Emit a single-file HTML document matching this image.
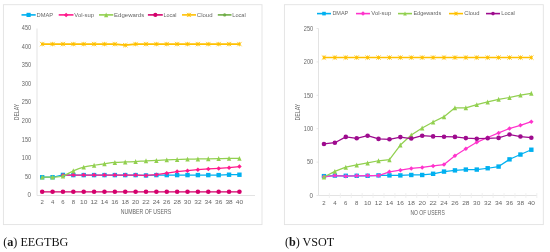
<!DOCTYPE html>
<html><head><meta charset="utf-8"><title>Delay comparison charts</title>
<style>html,body{margin:0;padding:0;background:#fff;width:550px;height:252px;overflow:hidden}svg{display:block}</style>
</head><body>
<svg width="550" height="252" viewBox="0 0 550 252" font-family="'Liberation Sans', Arial, sans-serif">
<rect width="550" height="252" fill="#fff"/>
<rect x="3.4" y="4.7" width="258.6" height="219.9" fill="#fff" stroke="#E2E2E2" stroke-width="0.9"/>
<path d="M37 28.5V195.5H255" stroke="#E0E0E0" stroke-width="0.9" fill="none"/>
<text x="31.1" y="197.25" font-size="6.3" text-anchor="end" fill="#666666">0</text>
<text x="31.1" y="178.69" font-size="6.3" text-anchor="end" fill="#666666" textLength="6.2" lengthAdjust="spacingAndGlyphs">50</text>
<text x="31.1" y="160.14" font-size="6.3" text-anchor="end" fill="#666666" textLength="9.3" lengthAdjust="spacingAndGlyphs">100</text>
<text x="31.1" y="141.58" font-size="6.3" text-anchor="end" fill="#666666" textLength="9.3" lengthAdjust="spacingAndGlyphs">150</text>
<text x="31.1" y="123.03" font-size="6.3" text-anchor="end" fill="#666666" textLength="9.3" lengthAdjust="spacingAndGlyphs">200</text>
<text x="31.1" y="104.47" font-size="6.3" text-anchor="end" fill="#666666" textLength="9.3" lengthAdjust="spacingAndGlyphs">250</text>
<text x="31.1" y="85.92" font-size="6.3" text-anchor="end" fill="#666666" textLength="9.3" lengthAdjust="spacingAndGlyphs">300</text>
<text x="31.1" y="67.36" font-size="6.3" text-anchor="end" fill="#666666" textLength="9.3" lengthAdjust="spacingAndGlyphs">350</text>
<text x="31.1" y="48.81" font-size="6.3" text-anchor="end" fill="#666666" textLength="9.3" lengthAdjust="spacingAndGlyphs">400</text>
<text x="31.1" y="30.25" font-size="6.3" text-anchor="end" fill="#666666" textLength="9.3" lengthAdjust="spacingAndGlyphs">450</text>
<text x="42.19" y="204.2" font-size="6.0" text-anchor="middle" fill="#666666">2</text>
<text x="52.57" y="204.2" font-size="6.0" text-anchor="middle" fill="#666666">4</text>
<text x="62.95" y="204.2" font-size="6.0" text-anchor="middle" fill="#666666">6</text>
<text x="73.33" y="204.2" font-size="6.0" text-anchor="middle" fill="#666666">8</text>
<text x="83.71" y="204.2" font-size="6.0" text-anchor="middle" fill="#666666" textLength="7.3" lengthAdjust="spacingAndGlyphs">10</text>
<text x="94.1" y="204.2" font-size="6.0" text-anchor="middle" fill="#666666" textLength="7.3" lengthAdjust="spacingAndGlyphs">12</text>
<text x="104.48" y="204.2" font-size="6.0" text-anchor="middle" fill="#666666" textLength="7.3" lengthAdjust="spacingAndGlyphs">14</text>
<text x="114.86" y="204.2" font-size="6.0" text-anchor="middle" fill="#666666" textLength="7.3" lengthAdjust="spacingAndGlyphs">16</text>
<text x="125.24" y="204.2" font-size="6.0" text-anchor="middle" fill="#666666" textLength="7.3" lengthAdjust="spacingAndGlyphs">18</text>
<text x="135.62" y="204.2" font-size="6.0" text-anchor="middle" fill="#666666" textLength="7.3" lengthAdjust="spacingAndGlyphs">20</text>
<text x="146" y="204.2" font-size="6.0" text-anchor="middle" fill="#666666" textLength="7.3" lengthAdjust="spacingAndGlyphs">22</text>
<text x="156.38" y="204.2" font-size="6.0" text-anchor="middle" fill="#666666" textLength="7.3" lengthAdjust="spacingAndGlyphs">24</text>
<text x="166.76" y="204.2" font-size="6.0" text-anchor="middle" fill="#666666" textLength="7.3" lengthAdjust="spacingAndGlyphs">26</text>
<text x="177.14" y="204.2" font-size="6.0" text-anchor="middle" fill="#666666" textLength="7.3" lengthAdjust="spacingAndGlyphs">28</text>
<text x="187.52" y="204.2" font-size="6.0" text-anchor="middle" fill="#666666" textLength="7.3" lengthAdjust="spacingAndGlyphs">30</text>
<text x="197.9" y="204.2" font-size="6.0" text-anchor="middle" fill="#666666" textLength="7.3" lengthAdjust="spacingAndGlyphs">32</text>
<text x="208.29" y="204.2" font-size="6.0" text-anchor="middle" fill="#666666" textLength="7.3" lengthAdjust="spacingAndGlyphs">34</text>
<text x="218.67" y="204.2" font-size="6.0" text-anchor="middle" fill="#666666" textLength="7.3" lengthAdjust="spacingAndGlyphs">36</text>
<text x="229.05" y="204.2" font-size="6.0" text-anchor="middle" fill="#666666" textLength="7.3" lengthAdjust="spacingAndGlyphs">38</text>
<text x="239.43" y="204.2" font-size="6.0" text-anchor="middle" fill="#666666" textLength="7.3" lengthAdjust="spacingAndGlyphs">40</text>
<text x="146" y="214.3" font-size="6.7" text-anchor="middle" fill="#666666" textLength="50.4" lengthAdjust="spacingAndGlyphs">NUMBER OF USERS</text>
<text x="0" y="0" font-size="6.3" text-anchor="middle" fill="#666666" textLength="16.2" lengthAdjust="spacingAndGlyphs" transform="translate(18.5 112.1) rotate(-90)">DELAY</text>
<path d="M42.19 177.24L52.57 177.24L62.95 174.9L73.33 175.09L83.71 175.09L94.1 175.09L104.48 175.09L114.86 175.09L125.24 175.09L135.62 175.09L146 175.46L156.38 175.09L166.76 175.09L177.14 175.09L187.52 175.09L197.9 175.09L208.29 175.09L218.67 175.09L229.05 174.72L239.43 174.72" stroke="#00B0F0" stroke-width="1.25" fill="none" stroke-linejoin="round" stroke-linecap="round"/>
<rect x="39.99" y="175.04" width="4.4" height="4.4" fill="#00B0F0"/>
<rect x="50.37" y="175.04" width="4.4" height="4.4" fill="#00B0F0"/>
<rect x="60.75" y="172.7" width="4.4" height="4.4" fill="#00B0F0"/>
<rect x="71.13" y="172.89" width="4.4" height="4.4" fill="#00B0F0"/>
<rect x="81.51" y="172.89" width="4.4" height="4.4" fill="#00B0F0"/>
<rect x="91.9" y="172.89" width="4.4" height="4.4" fill="#00B0F0"/>
<rect x="102.28" y="172.89" width="4.4" height="4.4" fill="#00B0F0"/>
<rect x="112.66" y="172.89" width="4.4" height="4.4" fill="#00B0F0"/>
<rect x="123.04" y="172.89" width="4.4" height="4.4" fill="#00B0F0"/>
<rect x="133.42" y="172.89" width="4.4" height="4.4" fill="#00B0F0"/>
<rect x="143.8" y="173.26" width="4.4" height="4.4" fill="#00B0F0"/>
<rect x="154.18" y="172.89" width="4.4" height="4.4" fill="#00B0F0"/>
<rect x="164.56" y="172.89" width="4.4" height="4.4" fill="#00B0F0"/>
<rect x="174.94" y="172.89" width="4.4" height="4.4" fill="#00B0F0"/>
<rect x="185.32" y="172.89" width="4.4" height="4.4" fill="#00B0F0"/>
<rect x="195.7" y="172.89" width="4.4" height="4.4" fill="#00B0F0"/>
<rect x="206.09" y="172.89" width="4.4" height="4.4" fill="#00B0F0"/>
<rect x="216.47" y="172.89" width="4.4" height="4.4" fill="#00B0F0"/>
<rect x="226.85" y="172.52" width="4.4" height="4.4" fill="#00B0F0"/>
<rect x="237.23" y="172.52" width="4.4" height="4.4" fill="#00B0F0"/>
<path d="M62.95 175.24L73.33 175.09L83.71 175.09L94.1 175.09L104.48 175.09L114.86 175.09L125.24 175.09L135.62 175.09L146 175.46L156.38 174.72L166.76 173.23L177.14 171.56L187.52 170.64L197.9 169.71L208.29 168.97L218.67 168.41L229.05 167.67L239.43 166.55" stroke="#FF1A8C" stroke-width="1.25" fill="none" stroke-linejoin="round" stroke-linecap="round"/>
<path d="M62.95 172.99L65.2 175.24L62.95 177.49L60.7 175.24Z" fill="#FF1A8C"/>
<path d="M73.33 172.84L75.58 175.09L73.33 177.34L71.08 175.09Z" fill="#FF1A8C"/>
<path d="M83.71 172.84L85.96 175.09L83.71 177.34L81.46 175.09Z" fill="#FF1A8C"/>
<path d="M94.1 172.84L96.35 175.09L94.1 177.34L91.85 175.09Z" fill="#FF1A8C"/>
<path d="M104.48 172.84L106.73 175.09L104.48 177.34L102.23 175.09Z" fill="#FF1A8C"/>
<path d="M114.86 172.84L117.11 175.09L114.86 177.34L112.61 175.09Z" fill="#FF1A8C"/>
<path d="M125.24 172.84L127.49 175.09L125.24 177.34L122.99 175.09Z" fill="#FF1A8C"/>
<path d="M135.62 172.84L137.87 175.09L135.62 177.34L133.37 175.09Z" fill="#FF1A8C"/>
<path d="M146 173.21L148.25 175.46L146 177.71L143.75 175.46Z" fill="#FF1A8C"/>
<path d="M156.38 172.47L158.63 174.72L156.38 176.97L154.13 174.72Z" fill="#FF1A8C"/>
<path d="M166.76 170.98L169.01 173.23L166.76 175.48L164.51 173.23Z" fill="#FF1A8C"/>
<path d="M177.14 169.31L179.39 171.56L177.14 173.81L174.89 171.56Z" fill="#FF1A8C"/>
<path d="M187.52 168.39L189.77 170.64L187.52 172.89L185.27 170.64Z" fill="#FF1A8C"/>
<path d="M197.9 167.46L200.15 169.71L197.9 171.96L195.65 169.71Z" fill="#FF1A8C"/>
<path d="M208.29 166.72L210.54 168.97L208.29 171.22L206.04 168.97Z" fill="#FF1A8C"/>
<path d="M218.67 166.16L220.92 168.41L218.67 170.66L216.42 168.41Z" fill="#FF1A8C"/>
<path d="M229.05 165.42L231.3 167.67L229.05 169.92L226.8 167.67Z" fill="#FF1A8C"/>
<path d="M239.43 164.3L241.68 166.55L239.43 168.8L237.18 166.55Z" fill="#FF1A8C"/>
<path d="M42.19 177.09C43.92 177.09 49.11 177.27 52.57 177.09C56.03 176.91 59.49 177.06 62.95 176.02C66.41 174.97 69.87 172.31 73.33 170.82C76.79 169.34 80.25 168.04 83.71 167.11C87.17 166.18 90.63 165.81 94.1 165.25C97.56 164.7 101.02 164.23 104.48 163.77C107.94 163.31 111.4 162.78 114.86 162.47C118.32 162.16 121.78 162.07 125.24 161.91C128.7 161.76 132.16 161.73 135.62 161.54C139.08 161.36 142.54 160.99 146 160.8C149.46 160.62 152.92 160.58 156.38 160.43C159.84 160.28 163.3 160.03 166.76 159.87C170.22 159.72 173.68 159.63 177.14 159.5C180.6 159.38 184.06 159.22 187.52 159.13C190.98 159.04 194.44 159.01 197.9 158.95C201.37 158.88 204.83 158.82 208.29 158.76C211.75 158.7 215.21 158.64 218.67 158.57C222.13 158.51 225.59 158.42 229.05 158.39C232.51 158.36 237.7 158.39 239.43 158.39" stroke="#92D050" stroke-width="1.25" fill="none" stroke-linejoin="round" stroke-linecap="round"/>
<path d="M42.19 174.63L44.39 179.56L39.99 179.56Z" fill="#92D050"/>
<path d="M52.57 174.63L54.77 179.56L50.37 179.56Z" fill="#92D050"/>
<path d="M62.95 173.55L65.15 178.48L60.75 178.48Z" fill="#92D050"/>
<path d="M73.33 168.36L75.53 173.29L71.13 173.29Z" fill="#92D050"/>
<path d="M83.71 164.65L85.91 169.57L81.51 169.57Z" fill="#92D050"/>
<path d="M94.1 162.79L96.3 167.72L91.9 167.72Z" fill="#92D050"/>
<path d="M104.48 161.31L106.68 166.23L102.28 166.23Z" fill="#92D050"/>
<path d="M114.86 160.01L117.06 164.94L112.66 164.94Z" fill="#92D050"/>
<path d="M125.24 159.45L127.44 164.38L123.04 164.38Z" fill="#92D050"/>
<path d="M135.62 159.08L137.82 164.01L133.42 164.01Z" fill="#92D050"/>
<path d="M146 158.34L148.2 163.27L143.8 163.27Z" fill="#92D050"/>
<path d="M156.38 157.97L158.58 162.89L154.18 162.89Z" fill="#92D050"/>
<path d="M166.76 157.41L168.96 162.34L164.56 162.34Z" fill="#92D050"/>
<path d="M177.14 157.04L179.34 161.97L174.94 161.97Z" fill="#92D050"/>
<path d="M187.52 156.67L189.72 161.6L185.32 161.6Z" fill="#92D050"/>
<path d="M197.9 156.48L200.1 161.41L195.7 161.41Z" fill="#92D050"/>
<path d="M208.29 156.3L210.49 161.22L206.09 161.22Z" fill="#92D050"/>
<path d="M218.67 156.11L220.87 161.04L216.47 161.04Z" fill="#92D050"/>
<path d="M229.05 155.92L231.25 160.85L226.85 160.85Z" fill="#92D050"/>
<path d="M239.43 155.92L241.63 160.85L237.23 160.85Z" fill="#92D050"/>
<path d="M42.19 191.79L52.57 191.79L62.95 191.79L73.33 191.79L83.71 191.79L94.1 191.79L104.48 191.79L114.86 191.79L125.24 191.79L135.62 191.79L146 191.79L156.38 191.79L166.76 191.79L177.14 191.79L187.52 191.79L197.9 191.79L208.29 191.79L218.67 191.79L229.05 191.79L239.43 191.79" stroke="#D4006C" stroke-width="1.25" fill="none" stroke-linejoin="round" stroke-linecap="round"/>
<circle cx="42.19" cy="191.79" r="2.3" fill="#D4006C"/>
<circle cx="52.57" cy="191.79" r="2.3" fill="#D4006C"/>
<circle cx="62.95" cy="191.79" r="2.3" fill="#D4006C"/>
<circle cx="73.33" cy="191.79" r="2.3" fill="#D4006C"/>
<circle cx="83.71" cy="191.79" r="2.3" fill="#D4006C"/>
<circle cx="94.1" cy="191.79" r="2.3" fill="#D4006C"/>
<circle cx="104.48" cy="191.79" r="2.3" fill="#D4006C"/>
<circle cx="114.86" cy="191.79" r="2.3" fill="#D4006C"/>
<circle cx="125.24" cy="191.79" r="2.3" fill="#D4006C"/>
<circle cx="135.62" cy="191.79" r="2.3" fill="#D4006C"/>
<circle cx="146" cy="191.79" r="2.3" fill="#D4006C"/>
<circle cx="156.38" cy="191.79" r="2.3" fill="#D4006C"/>
<circle cx="166.76" cy="191.79" r="2.3" fill="#D4006C"/>
<circle cx="177.14" cy="191.79" r="2.3" fill="#D4006C"/>
<circle cx="187.52" cy="191.79" r="2.3" fill="#D4006C"/>
<circle cx="197.9" cy="191.79" r="2.3" fill="#D4006C"/>
<circle cx="208.29" cy="191.79" r="2.3" fill="#D4006C"/>
<circle cx="218.67" cy="191.79" r="2.3" fill="#D4006C"/>
<circle cx="229.05" cy="191.79" r="2.3" fill="#D4006C"/>
<circle cx="239.43" cy="191.79" r="2.3" fill="#D4006C"/>
<path d="M42.19 44.09L52.57 44.09L62.95 44.09L73.33 44.09L83.71 44.09L94.1 44.09L104.48 44.09L114.86 44.09L125.24 45.2L135.62 44.09L146 44.09L156.38 44.09L166.76 44.09L177.14 44.09L187.52 44.09L197.9 44.09L208.29 44.09L218.67 44.09L229.05 44.09L239.43 44.09" stroke="#FFC000" stroke-width="1.7" fill="none" stroke-linejoin="round" stroke-linecap="round"/>
<path d="M39.99 41.89L44.39 46.29M44.39 41.89L39.99 46.29M42.19 41.89L42.19 46.29" stroke="#FFC000" stroke-width="0.8" fill="none"/><rect x="41.09" y="42.99" width="2.2" height="2.2" fill="#FFC000"/>
<path d="M50.37 41.89L54.77 46.29M54.77 41.89L50.37 46.29M52.57 41.89L52.57 46.29" stroke="#FFC000" stroke-width="0.8" fill="none"/><rect x="51.47" y="42.99" width="2.2" height="2.2" fill="#FFC000"/>
<path d="M60.75 41.89L65.15 46.29M65.15 41.89L60.75 46.29M62.95 41.89L62.95 46.29" stroke="#FFC000" stroke-width="0.8" fill="none"/><rect x="61.85" y="42.99" width="2.2" height="2.2" fill="#FFC000"/>
<path d="M71.13 41.89L75.53 46.29M75.53 41.89L71.13 46.29M73.33 41.89L73.33 46.29" stroke="#FFC000" stroke-width="0.8" fill="none"/><rect x="72.23" y="42.99" width="2.2" height="2.2" fill="#FFC000"/>
<path d="M81.51 41.89L85.91 46.29M85.91 41.89L81.51 46.29M83.71 41.89L83.71 46.29" stroke="#FFC000" stroke-width="0.8" fill="none"/><rect x="82.61" y="42.99" width="2.2" height="2.2" fill="#FFC000"/>
<path d="M91.9 41.89L96.3 46.29M96.3 41.89L91.9 46.29M94.1 41.89L94.1 46.29" stroke="#FFC000" stroke-width="0.8" fill="none"/><rect x="93" y="42.99" width="2.2" height="2.2" fill="#FFC000"/>
<path d="M102.28 41.89L106.68 46.29M106.68 41.89L102.28 46.29M104.48 41.89L104.48 46.29" stroke="#FFC000" stroke-width="0.8" fill="none"/><rect x="103.38" y="42.99" width="2.2" height="2.2" fill="#FFC000"/>
<path d="M112.66 41.89L117.06 46.29M117.06 41.89L112.66 46.29M114.86 41.89L114.86 46.29" stroke="#FFC000" stroke-width="0.8" fill="none"/><rect x="113.76" y="42.99" width="2.2" height="2.2" fill="#FFC000"/>
<path d="M123.04 43L127.44 47.4M127.44 43L123.04 47.4M125.24 43L125.24 47.4" stroke="#FFC000" stroke-width="0.8" fill="none"/><rect x="124.14" y="44.1" width="2.2" height="2.2" fill="#FFC000"/>
<path d="M133.42 41.89L137.82 46.29M137.82 41.89L133.42 46.29M135.62 41.89L135.62 46.29" stroke="#FFC000" stroke-width="0.8" fill="none"/><rect x="134.52" y="42.99" width="2.2" height="2.2" fill="#FFC000"/>
<path d="M143.8 41.89L148.2 46.29M148.2 41.89L143.8 46.29M146 41.89L146 46.29" stroke="#FFC000" stroke-width="0.8" fill="none"/><rect x="144.9" y="42.99" width="2.2" height="2.2" fill="#FFC000"/>
<path d="M154.18 41.89L158.58 46.29M158.58 41.89L154.18 46.29M156.38 41.89L156.38 46.29" stroke="#FFC000" stroke-width="0.8" fill="none"/><rect x="155.28" y="42.99" width="2.2" height="2.2" fill="#FFC000"/>
<path d="M164.56 41.89L168.96 46.29M168.96 41.89L164.56 46.29M166.76 41.89L166.76 46.29" stroke="#FFC000" stroke-width="0.8" fill="none"/><rect x="165.66" y="42.99" width="2.2" height="2.2" fill="#FFC000"/>
<path d="M174.94 41.89L179.34 46.29M179.34 41.89L174.94 46.29M177.14 41.89L177.14 46.29" stroke="#FFC000" stroke-width="0.8" fill="none"/><rect x="176.04" y="42.99" width="2.2" height="2.2" fill="#FFC000"/>
<path d="M185.32 41.89L189.72 46.29M189.72 41.89L185.32 46.29M187.52 41.89L187.52 46.29" stroke="#FFC000" stroke-width="0.8" fill="none"/><rect x="186.42" y="42.99" width="2.2" height="2.2" fill="#FFC000"/>
<path d="M195.7 41.89L200.1 46.29M200.1 41.89L195.7 46.29M197.9 41.89L197.9 46.29" stroke="#FFC000" stroke-width="0.8" fill="none"/><rect x="196.8" y="42.99" width="2.2" height="2.2" fill="#FFC000"/>
<path d="M206.09 41.89L210.49 46.29M210.49 41.89L206.09 46.29M208.29 41.89L208.29 46.29" stroke="#FFC000" stroke-width="0.8" fill="none"/><rect x="207.19" y="42.99" width="2.2" height="2.2" fill="#FFC000"/>
<path d="M216.47 41.89L220.87 46.29M220.87 41.89L216.47 46.29M218.67 41.89L218.67 46.29" stroke="#FFC000" stroke-width="0.8" fill="none"/><rect x="217.57" y="42.99" width="2.2" height="2.2" fill="#FFC000"/>
<path d="M226.85 41.89L231.25 46.29M231.25 41.89L226.85 46.29M229.05 41.89L229.05 46.29" stroke="#FFC000" stroke-width="0.8" fill="none"/><rect x="227.95" y="42.99" width="2.2" height="2.2" fill="#FFC000"/>
<path d="M237.23 41.89L241.63 46.29M241.63 41.89L237.23 46.29M239.43 41.89L239.43 46.29" stroke="#FFC000" stroke-width="0.8" fill="none"/><rect x="238.33" y="42.99" width="2.2" height="2.2" fill="#FFC000"/>
<path d="M21.5 14.9H35.7" stroke="#00B0F0" stroke-width="1.6"/>
<rect x="26.5" y="12.8" width="4.2" height="4.2" fill="#00B0F0"/>
<text x="36.5" y="16.65" font-size="6.0" text-anchor="start" fill="#666666" textLength="16.7" lengthAdjust="spacingAndGlyphs">DMAP</text>
<path d="M58.7 14.9H73.5" stroke="#FF1A8C" stroke-width="1.6"/>
<path d="M66.1 12.65L68.35 14.9L66.1 17.15L63.85 14.9Z" fill="#FF1A8C"/>
<text x="74.3" y="16.65" font-size="6.0" text-anchor="start" fill="#666666" textLength="19.7" lengthAdjust="spacingAndGlyphs">Vol-sup</text>
<path d="M99 14.9H113.3" stroke="#92D050" stroke-width="1.6"/>
<path d="M106.15 12.55L108.25 17.25L104.05 17.25Z" fill="#92D050"/>
<text x="114.1" y="16.65" font-size="6.0" text-anchor="start" fill="#666666" textLength="30.1" lengthAdjust="spacingAndGlyphs">Edgewards</text>
<path d="M147.9 14.9H162.8" stroke="#D4006C" stroke-width="1.6"/>
<circle cx="155.35" cy="14.9" r="2.1" fill="#D4006C"/>
<text x="163.6" y="16.65" font-size="6.0" text-anchor="start" fill="#666666" textLength="12.9" lengthAdjust="spacingAndGlyphs">Local</text>
<path d="M182 14.9H196" stroke="#FFC000" stroke-width="1.6"/>
<path d="M186.9 12.8L191.1 17M191.1 12.8L186.9 17M189 12.8L189 17" stroke="#FFC000" stroke-width="0.8" fill="none"/><rect x="187.9" y="13.8" width="2.2" height="2.2" fill="#FFC000"/>
<text x="196.8" y="16.65" font-size="6.0" text-anchor="start" fill="#666666" textLength="15.7" lengthAdjust="spacingAndGlyphs">Cloud</text>
<path d="M217.8 14.9H231.5" stroke="#70AD47" stroke-width="1.6"/>
<circle cx="224.65" cy="14.9" r="1.6" fill="#70AD47"/>
<text x="232.3" y="16.65" font-size="6.0" text-anchor="start" fill="#666666" textLength="13.4" lengthAdjust="spacingAndGlyphs">Local</text>
<rect x="284.4" y="4.7" width="258.9" height="219.9" fill="#fff" stroke="#E2E2E2" stroke-width="0.9"/>
<path d="M318.5 28.5V195.5H536.8" stroke="#E0E0E0" stroke-width="0.9" fill="none"/>
<path d="M329.42 193v5M340.33 193v5M351.25 193v5M362.16 193v5M373.07 193v5M383.99 193v5M394.9 193v5M405.82 193v5M416.73 193v5M427.65 193v5M438.56 193v5M449.48 193v5M460.39 193v5M471.31 193v5M482.22 193v5M493.14 193v5M504.05 193v5M514.97 193v5M525.88 193v5M536.8 193v5" stroke="#EDEDED" stroke-width="0.8"/>
<path d="M316.5 195.5h2M316.5 162.1h2M316.5 128.7h2M316.5 95.3h2M316.5 61.9h2M316.5 28.5h2" stroke="#E0E0E0" stroke-width="0.8"/>
<text x="313.1" y="197.75" font-size="6.3" text-anchor="end" fill="#666666">0</text>
<text x="313.1" y="164.35" font-size="6.3" text-anchor="end" fill="#666666" textLength="6.2" lengthAdjust="spacingAndGlyphs">50</text>
<text x="313.1" y="130.95" font-size="6.3" text-anchor="end" fill="#666666" textLength="9.3" lengthAdjust="spacingAndGlyphs">100</text>
<text x="313.1" y="97.55" font-size="6.3" text-anchor="end" fill="#666666" textLength="9.3" lengthAdjust="spacingAndGlyphs">150</text>
<text x="313.1" y="64.15" font-size="6.3" text-anchor="end" fill="#666666" textLength="9.3" lengthAdjust="spacingAndGlyphs">200</text>
<text x="313.1" y="30.75" font-size="6.3" text-anchor="end" fill="#666666" textLength="9.3" lengthAdjust="spacingAndGlyphs">250</text>
<text x="323.96" y="204.95" font-size="6.0" text-anchor="middle" fill="#666666">2</text>
<text x="334.87" y="204.95" font-size="6.0" text-anchor="middle" fill="#666666">4</text>
<text x="345.79" y="204.95" font-size="6.0" text-anchor="middle" fill="#666666">6</text>
<text x="356.7" y="204.95" font-size="6.0" text-anchor="middle" fill="#666666">8</text>
<text x="367.62" y="204.95" font-size="6.0" text-anchor="middle" fill="#666666" textLength="7.3" lengthAdjust="spacingAndGlyphs">10</text>
<text x="378.53" y="204.95" font-size="6.0" text-anchor="middle" fill="#666666" textLength="7.3" lengthAdjust="spacingAndGlyphs">12</text>
<text x="389.45" y="204.95" font-size="6.0" text-anchor="middle" fill="#666666" textLength="7.3" lengthAdjust="spacingAndGlyphs">14</text>
<text x="400.36" y="204.95" font-size="6.0" text-anchor="middle" fill="#666666" textLength="7.3" lengthAdjust="spacingAndGlyphs">16</text>
<text x="411.28" y="204.95" font-size="6.0" text-anchor="middle" fill="#666666" textLength="7.3" lengthAdjust="spacingAndGlyphs">18</text>
<text x="422.19" y="204.95" font-size="6.0" text-anchor="middle" fill="#666666" textLength="7.3" lengthAdjust="spacingAndGlyphs">20</text>
<text x="433.11" y="204.95" font-size="6.0" text-anchor="middle" fill="#666666" textLength="7.3" lengthAdjust="spacingAndGlyphs">22</text>
<text x="444.02" y="204.95" font-size="6.0" text-anchor="middle" fill="#666666" textLength="7.3" lengthAdjust="spacingAndGlyphs">24</text>
<text x="454.94" y="204.95" font-size="6.0" text-anchor="middle" fill="#666666" textLength="7.3" lengthAdjust="spacingAndGlyphs">26</text>
<text x="465.85" y="204.95" font-size="6.0" text-anchor="middle" fill="#666666" textLength="7.3" lengthAdjust="spacingAndGlyphs">28</text>
<text x="476.77" y="204.95" font-size="6.0" text-anchor="middle" fill="#666666" textLength="7.3" lengthAdjust="spacingAndGlyphs">30</text>
<text x="487.68" y="204.95" font-size="6.0" text-anchor="middle" fill="#666666" textLength="7.3" lengthAdjust="spacingAndGlyphs">32</text>
<text x="498.6" y="204.95" font-size="6.0" text-anchor="middle" fill="#666666" textLength="7.3" lengthAdjust="spacingAndGlyphs">34</text>
<text x="509.51" y="204.95" font-size="6.0" text-anchor="middle" fill="#666666" textLength="7.3" lengthAdjust="spacingAndGlyphs">36</text>
<text x="520.43" y="204.95" font-size="6.0" text-anchor="middle" fill="#666666" textLength="7.3" lengthAdjust="spacingAndGlyphs">38</text>
<text x="531.34" y="204.95" font-size="6.0" text-anchor="middle" fill="#666666" textLength="7.3" lengthAdjust="spacingAndGlyphs">40</text>
<text x="427.6" y="214.5" font-size="6.7" text-anchor="middle" fill="#666666" textLength="34.4" lengthAdjust="spacingAndGlyphs">NO OF USERS</text>
<text x="0" y="0" font-size="6.5" text-anchor="middle" fill="#666666" textLength="16.6" lengthAdjust="spacingAndGlyphs" transform="translate(299.9 112.1) rotate(-90)">DELAY</text>
<path d="M323.96 176.13L334.87 175.59L345.79 175.79L356.7 175.79L367.62 175.79L378.53 175.39L389.45 175.39L400.36 175.39L411.28 174.99L422.19 174.99L433.11 173.79L444.02 171.59L454.94 170.38L465.85 169.58L476.77 169.58L487.68 168.25L498.6 166.58L509.51 159.36L520.43 154.55L531.34 149.74" stroke="#00B0F0" stroke-width="1.25" fill="none" stroke-linejoin="round" stroke-linecap="round"/>
<rect x="321.76" y="173.93" width="4.4" height="4.4" fill="#00B0F0"/>
<rect x="332.67" y="173.39" width="4.4" height="4.4" fill="#00B0F0"/>
<rect x="343.59" y="173.59" width="4.4" height="4.4" fill="#00B0F0"/>
<rect x="354.5" y="173.59" width="4.4" height="4.4" fill="#00B0F0"/>
<rect x="365.42" y="173.59" width="4.4" height="4.4" fill="#00B0F0"/>
<rect x="376.33" y="173.19" width="4.4" height="4.4" fill="#00B0F0"/>
<rect x="387.25" y="173.19" width="4.4" height="4.4" fill="#00B0F0"/>
<rect x="398.16" y="173.19" width="4.4" height="4.4" fill="#00B0F0"/>
<rect x="409.08" y="172.79" width="4.4" height="4.4" fill="#00B0F0"/>
<rect x="419.99" y="172.79" width="4.4" height="4.4" fill="#00B0F0"/>
<rect x="430.91" y="171.59" width="4.4" height="4.4" fill="#00B0F0"/>
<rect x="441.82" y="169.39" width="4.4" height="4.4" fill="#00B0F0"/>
<rect x="452.74" y="168.18" width="4.4" height="4.4" fill="#00B0F0"/>
<rect x="463.65" y="167.38" width="4.4" height="4.4" fill="#00B0F0"/>
<rect x="474.57" y="167.38" width="4.4" height="4.4" fill="#00B0F0"/>
<rect x="485.48" y="166.05" width="4.4" height="4.4" fill="#00B0F0"/>
<rect x="496.4" y="164.38" width="4.4" height="4.4" fill="#00B0F0"/>
<rect x="507.31" y="157.16" width="4.4" height="4.4" fill="#00B0F0"/>
<rect x="518.23" y="152.35" width="4.4" height="4.4" fill="#00B0F0"/>
<rect x="529.14" y="147.54" width="4.4" height="4.4" fill="#00B0F0"/>
<path d="M323.96 176.8L334.87 175.59L345.79 176.13L356.7 175.79L367.62 175.59L378.53 175.59L389.45 171.79L400.36 170.18L411.28 168.38L422.19 167.38L433.11 165.97L444.02 164.57L454.94 155.75L465.85 148.74L476.77 142.33L487.68 137.52L498.6 132.91L509.51 128.5L520.43 125.36L531.34 121.69" stroke="#FF33CC" stroke-width="1.25" fill="none" stroke-linejoin="round" stroke-linecap="round"/>
<path d="M323.96 174.55L326.21 176.8L323.96 179.05L321.71 176.8Z" fill="#FF33CC"/>
<path d="M334.87 173.34L337.12 175.59L334.87 177.84L332.62 175.59Z" fill="#FF33CC"/>
<path d="M345.79 173.88L348.04 176.13L345.79 178.38L343.54 176.13Z" fill="#FF33CC"/>
<path d="M356.7 173.54L358.95 175.79L356.7 178.04L354.45 175.79Z" fill="#FF33CC"/>
<path d="M367.62 173.34L369.87 175.59L367.62 177.84L365.37 175.59Z" fill="#FF33CC"/>
<path d="M378.53 173.34L380.78 175.59L378.53 177.84L376.28 175.59Z" fill="#FF33CC"/>
<path d="M389.45 169.54L391.7 171.79L389.45 174.04L387.2 171.79Z" fill="#FF33CC"/>
<path d="M400.36 167.93L402.61 170.18L400.36 172.43L398.11 170.18Z" fill="#FF33CC"/>
<path d="M411.28 166.13L413.53 168.38L411.28 170.63L409.03 168.38Z" fill="#FF33CC"/>
<path d="M422.19 165.13L424.44 167.38L422.19 169.63L419.94 167.38Z" fill="#FF33CC"/>
<path d="M433.11 163.72L435.36 165.97L433.11 168.22L430.86 165.97Z" fill="#FF33CC"/>
<path d="M444.02 162.32L446.27 164.57L444.02 166.82L441.77 164.57Z" fill="#FF33CC"/>
<path d="M454.94 153.5L457.19 155.75L454.94 158L452.69 155.75Z" fill="#FF33CC"/>
<path d="M465.85 146.49L468.1 148.74L465.85 150.99L463.6 148.74Z" fill="#FF33CC"/>
<path d="M476.77 140.08L479.02 142.33L476.77 144.58L474.52 142.33Z" fill="#FF33CC"/>
<path d="M487.68 135.27L489.93 137.52L487.68 139.77L485.43 137.52Z" fill="#FF33CC"/>
<path d="M498.6 130.66L500.85 132.91L498.6 135.16L496.35 132.91Z" fill="#FF33CC"/>
<path d="M509.51 126.25L511.76 128.5L509.51 130.75L507.26 128.5Z" fill="#FF33CC"/>
<path d="M520.43 123.11L522.68 125.36L520.43 127.61L518.18 125.36Z" fill="#FF33CC"/>
<path d="M531.34 119.44L533.59 121.69L531.34 123.94L529.09 121.69Z" fill="#FF33CC"/>
<path d="M323.96 177L334.87 171.39L345.79 167.18L356.7 164.97L367.62 162.97L378.53 160.76L389.45 159.7L400.36 145.07L411.28 134.98L422.19 128.03L433.11 122.02L444.02 116.68L454.94 107.79L465.85 107.79L476.77 104.65L487.68 101.98L498.6 99.31L509.51 97.5L520.43 95.1L531.34 93.3" stroke="#92D050" stroke-width="1.25" fill="none" stroke-linejoin="round" stroke-linecap="round"/>
<path d="M323.96 174.53L326.16 179.46L321.76 179.46Z" fill="#92D050"/>
<path d="M334.87 168.92L337.07 173.85L332.67 173.85Z" fill="#92D050"/>
<path d="M345.79 164.71L347.99 169.64L343.59 169.64Z" fill="#92D050"/>
<path d="M356.7 162.51L358.9 167.44L354.5 167.44Z" fill="#92D050"/>
<path d="M367.62 160.5L369.82 165.43L365.42 165.43Z" fill="#92D050"/>
<path d="M378.53 158.3L380.73 163.23L376.33 163.23Z" fill="#92D050"/>
<path d="M389.45 157.23L391.65 162.16L387.25 162.16Z" fill="#92D050"/>
<path d="M400.36 142.6L402.56 147.53L398.16 147.53Z" fill="#92D050"/>
<path d="M411.28 132.52L413.48 137.44L409.08 137.44Z" fill="#92D050"/>
<path d="M422.19 125.57L424.39 130.5L419.99 130.5Z" fill="#92D050"/>
<path d="M433.11 119.56L435.31 124.48L430.91 124.48Z" fill="#92D050"/>
<path d="M444.02 114.21L446.22 119.14L441.82 119.14Z" fill="#92D050"/>
<path d="M454.94 105.33L457.14 110.26L452.74 110.26Z" fill="#92D050"/>
<path d="M465.85 105.33L468.05 110.26L463.65 110.26Z" fill="#92D050"/>
<path d="M476.77 102.19L478.97 107.12L474.57 107.12Z" fill="#92D050"/>
<path d="M487.68 99.52L489.88 104.44L485.48 104.44Z" fill="#92D050"/>
<path d="M498.6 96.84L500.8 101.77L496.4 101.77Z" fill="#92D050"/>
<path d="M509.51 95.04L511.71 99.97L507.31 99.97Z" fill="#92D050"/>
<path d="M520.43 92.64L522.63 97.56L518.23 97.56Z" fill="#92D050"/>
<path d="M531.34 90.83L533.54 95.76L529.14 95.76Z" fill="#92D050"/>
<path d="M323.96 57.56L334.87 57.56L345.79 57.56L356.7 57.56L367.62 57.56L378.53 57.56L389.45 57.56L400.36 57.56L411.28 57.56L422.19 57.56L433.11 57.56L444.02 57.56L454.94 57.56L465.85 57.56L476.77 57.56L487.68 57.56L498.6 57.56L509.51 57.56L520.43 57.56L531.34 57.56" stroke="#FFC000" stroke-width="1.6" fill="none" stroke-linejoin="round" stroke-linecap="round"/>
<path d="M321.76 55.36L326.16 59.76M326.16 55.36L321.76 59.76M323.96 55.36L323.96 59.76" stroke="#FFC000" stroke-width="0.8" fill="none"/><rect x="322.86" y="56.46" width="2.2" height="2.2" fill="#FFC000"/>
<path d="M332.67 55.36L337.07 59.76M337.07 55.36L332.67 59.76M334.87 55.36L334.87 59.76" stroke="#FFC000" stroke-width="0.8" fill="none"/><rect x="333.77" y="56.46" width="2.2" height="2.2" fill="#FFC000"/>
<path d="M343.59 55.36L347.99 59.76M347.99 55.36L343.59 59.76M345.79 55.36L345.79 59.76" stroke="#FFC000" stroke-width="0.8" fill="none"/><rect x="344.69" y="56.46" width="2.2" height="2.2" fill="#FFC000"/>
<path d="M354.5 55.36L358.9 59.76M358.9 55.36L354.5 59.76M356.7 55.36L356.7 59.76" stroke="#FFC000" stroke-width="0.8" fill="none"/><rect x="355.6" y="56.46" width="2.2" height="2.2" fill="#FFC000"/>
<path d="M365.42 55.36L369.82 59.76M369.82 55.36L365.42 59.76M367.62 55.36L367.62 59.76" stroke="#FFC000" stroke-width="0.8" fill="none"/><rect x="366.52" y="56.46" width="2.2" height="2.2" fill="#FFC000"/>
<path d="M376.33 55.36L380.73 59.76M380.73 55.36L376.33 59.76M378.53 55.36L378.53 59.76" stroke="#FFC000" stroke-width="0.8" fill="none"/><rect x="377.43" y="56.46" width="2.2" height="2.2" fill="#FFC000"/>
<path d="M387.25 55.36L391.65 59.76M391.65 55.36L387.25 59.76M389.45 55.36L389.45 59.76" stroke="#FFC000" stroke-width="0.8" fill="none"/><rect x="388.35" y="56.46" width="2.2" height="2.2" fill="#FFC000"/>
<path d="M398.16 55.36L402.56 59.76M402.56 55.36L398.16 59.76M400.36 55.36L400.36 59.76" stroke="#FFC000" stroke-width="0.8" fill="none"/><rect x="399.26" y="56.46" width="2.2" height="2.2" fill="#FFC000"/>
<path d="M409.08 55.36L413.48 59.76M413.48 55.36L409.08 59.76M411.28 55.36L411.28 59.76" stroke="#FFC000" stroke-width="0.8" fill="none"/><rect x="410.18" y="56.46" width="2.2" height="2.2" fill="#FFC000"/>
<path d="M419.99 55.36L424.39 59.76M424.39 55.36L419.99 59.76M422.19 55.36L422.19 59.76" stroke="#FFC000" stroke-width="0.8" fill="none"/><rect x="421.09" y="56.46" width="2.2" height="2.2" fill="#FFC000"/>
<path d="M430.91 55.36L435.31 59.76M435.31 55.36L430.91 59.76M433.11 55.36L433.11 59.76" stroke="#FFC000" stroke-width="0.8" fill="none"/><rect x="432.01" y="56.46" width="2.2" height="2.2" fill="#FFC000"/>
<path d="M441.82 55.36L446.22 59.76M446.22 55.36L441.82 59.76M444.02 55.36L444.02 59.76" stroke="#FFC000" stroke-width="0.8" fill="none"/><rect x="442.92" y="56.46" width="2.2" height="2.2" fill="#FFC000"/>
<path d="M452.74 55.36L457.14 59.76M457.14 55.36L452.74 59.76M454.94 55.36L454.94 59.76" stroke="#FFC000" stroke-width="0.8" fill="none"/><rect x="453.84" y="56.46" width="2.2" height="2.2" fill="#FFC000"/>
<path d="M463.65 55.36L468.05 59.76M468.05 55.36L463.65 59.76M465.85 55.36L465.85 59.76" stroke="#FFC000" stroke-width="0.8" fill="none"/><rect x="464.75" y="56.46" width="2.2" height="2.2" fill="#FFC000"/>
<path d="M474.57 55.36L478.97 59.76M478.97 55.36L474.57 59.76M476.77 55.36L476.77 59.76" stroke="#FFC000" stroke-width="0.8" fill="none"/><rect x="475.67" y="56.46" width="2.2" height="2.2" fill="#FFC000"/>
<path d="M485.48 55.36L489.88 59.76M489.88 55.36L485.48 59.76M487.68 55.36L487.68 59.76" stroke="#FFC000" stroke-width="0.8" fill="none"/><rect x="486.58" y="56.46" width="2.2" height="2.2" fill="#FFC000"/>
<path d="M496.4 55.36L500.8 59.76M500.8 55.36L496.4 59.76M498.6 55.36L498.6 59.76" stroke="#FFC000" stroke-width="0.8" fill="none"/><rect x="497.5" y="56.46" width="2.2" height="2.2" fill="#FFC000"/>
<path d="M507.31 55.36L511.71 59.76M511.71 55.36L507.31 59.76M509.51 55.36L509.51 59.76" stroke="#FFC000" stroke-width="0.8" fill="none"/><rect x="508.41" y="56.46" width="2.2" height="2.2" fill="#FFC000"/>
<path d="M518.23 55.36L522.63 59.76M522.63 55.36L518.23 59.76M520.43 55.36L520.43 59.76" stroke="#FFC000" stroke-width="0.8" fill="none"/><rect x="519.33" y="56.46" width="2.2" height="2.2" fill="#FFC000"/>
<path d="M529.14 55.36L533.54 59.76M533.54 55.36L529.14 59.76M531.34 55.36L531.34 59.76" stroke="#FFC000" stroke-width="0.8" fill="none"/><rect x="530.24" y="56.46" width="2.2" height="2.2" fill="#FFC000"/>
<path d="M323.96 143.93L334.87 142.73L345.79 136.92L356.7 138.32L367.62 135.71L378.53 138.92L389.45 139.32L400.36 137.12L411.28 138.52L422.19 135.71L433.11 136.38L444.02 136.72L454.94 136.92L465.85 138.12L476.77 138.72L487.68 138.32L498.6 137.92L509.51 134.51L520.43 136.52L531.34 137.72" stroke="#9E0B8E" stroke-width="1.25" fill="none" stroke-linejoin="round" stroke-linecap="round"/>
<circle cx="323.96" cy="143.93" r="2.3" fill="#9E0B8E"/>
<circle cx="334.87" cy="142.73" r="2.3" fill="#9E0B8E"/>
<circle cx="345.79" cy="136.92" r="2.3" fill="#9E0B8E"/>
<circle cx="356.7" cy="138.32" r="2.3" fill="#9E0B8E"/>
<circle cx="367.62" cy="135.71" r="2.3" fill="#9E0B8E"/>
<circle cx="378.53" cy="138.92" r="2.3" fill="#9E0B8E"/>
<circle cx="389.45" cy="139.32" r="2.3" fill="#9E0B8E"/>
<circle cx="400.36" cy="137.12" r="2.3" fill="#9E0B8E"/>
<circle cx="411.28" cy="138.52" r="2.3" fill="#9E0B8E"/>
<circle cx="422.19" cy="135.71" r="2.3" fill="#9E0B8E"/>
<circle cx="433.11" cy="136.38" r="2.3" fill="#9E0B8E"/>
<circle cx="444.02" cy="136.72" r="2.3" fill="#9E0B8E"/>
<circle cx="454.94" cy="136.92" r="2.3" fill="#9E0B8E"/>
<circle cx="465.85" cy="138.12" r="2.3" fill="#9E0B8E"/>
<circle cx="476.77" cy="138.72" r="2.3" fill="#9E0B8E"/>
<circle cx="487.68" cy="138.32" r="2.3" fill="#9E0B8E"/>
<circle cx="498.6" cy="137.92" r="2.3" fill="#9E0B8E"/>
<circle cx="509.51" cy="134.51" r="2.3" fill="#9E0B8E"/>
<circle cx="520.43" cy="136.52" r="2.3" fill="#9E0B8E"/>
<circle cx="531.34" cy="137.72" r="2.3" fill="#9E0B8E"/>
<path d="M317 13.6H331" stroke="#00B0F0" stroke-width="1.6"/>
<rect x="322.2" y="11.8" width="3.6" height="3.6" fill="#00B0F0"/>
<text x="332.4" y="15.35" font-size="6.0" text-anchor="start" fill="#666666" textLength="15.8" lengthAdjust="spacingAndGlyphs">DMAP</text>
<path d="M356 13.6H370" stroke="#FF33CC" stroke-width="1.6"/>
<path d="M363 11.35L365.25 13.6L363 15.85L360.75 13.6Z" fill="#FF33CC"/>
<text x="371.3" y="15.35" font-size="6.0" text-anchor="start" fill="#666666" textLength="19.9" lengthAdjust="spacingAndGlyphs">Vol-sup</text>
<path d="M398 13.6H412" stroke="#92D050" stroke-width="1.6"/>
<path d="M405 11.58L406.8 15.62L403.2 15.62Z" fill="#92D050"/>
<text x="413.4" y="15.35" font-size="6.0" text-anchor="start" fill="#666666" textLength="27.8" lengthAdjust="spacingAndGlyphs">Edgewards</text>
<path d="M449 13.6H463" stroke="#FFC000" stroke-width="1.6"/>
<path d="M454.2 11.8L457.8 15.4M457.8 11.8L454.2 15.4M456 11.8L456 15.4" stroke="#FFC000" stroke-width="0.8" fill="none"/><rect x="454.9" y="12.5" width="2.2" height="2.2" fill="#FFC000"/>
<text x="464.3" y="15.35" font-size="6.0" text-anchor="start" fill="#666666" textLength="15.1" lengthAdjust="spacingAndGlyphs">Cloud</text>
<path d="M486 13.6H500" stroke="#9E0B8E" stroke-width="1.6"/>
<circle cx="493" cy="13.6" r="1.8" fill="#9E0B8E"/>
<text x="501.3" y="15.35" font-size="6.0" text-anchor="start" fill="#666666" textLength="13.5" lengthAdjust="spacingAndGlyphs">Local</text>
<g font-family="'Liberation Serif', 'Times New Roman', serif" font-size="12.4" fill="#151515">
<text x="3.2" y="245.8" textLength="65.2" lengthAdjust="spacingAndGlyphs">(<tspan font-weight="bold">a</tspan>) EEGTBG</text>
<text x="284.9" y="245.8" textLength="49.4" lengthAdjust="spacingAndGlyphs">(<tspan font-weight="bold">b</tspan>) VSOT</text>
</g>
</svg>
</body></html>
